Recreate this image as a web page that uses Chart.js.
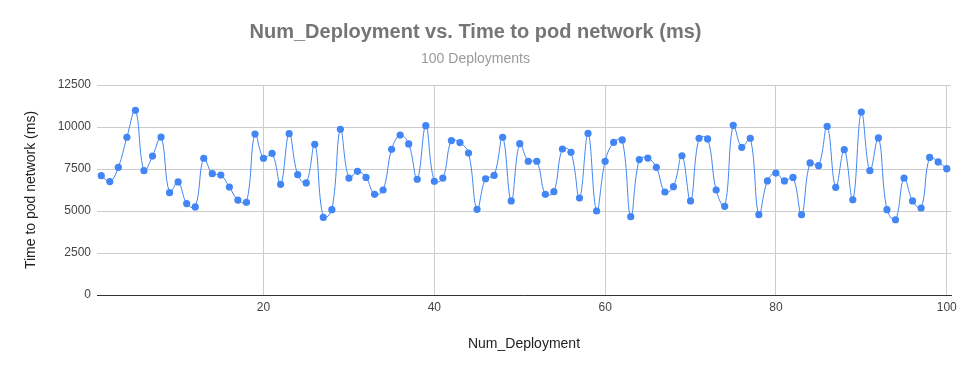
<!DOCTYPE html>
<html>
<head>
<meta charset="utf-8">
<script src="https://cdn.jsdelivr.net/npm/chart.js@4"></script>
<style>
  body { margin: 0; background: #fff; }
  #wrap { width: 970px; height: 371px; }
</style>
</head>
<body>
<div id="wrap"><canvas id="chart" width="970" height="371"></canvas></div>
<script>
const deployments = [1, 2, 3, 4, 5, 6, 7, 8, 9, 10, 11, 12, 13, 14, 15, 16, 17, 18, 19, 20,
  21, 22, 23, 24, 25, 26, 27, 28, 29, 30, 31, 32, 33, 34, 35, 36, 37, 38, 39, 40,
  41, 42, 43, 44, 45, 46, 47, 48, 49, 50, 51, 52, 53, 54, 55, 56, 57, 58, 59, 60,
  61, 62, 63, 64, 65, 66, 67, 68, 69, 70, 71, 72, 73, 74, 75, 76, 77, 78, 79, 80,
  81, 82, 83, 84, 85, 86, 87, 88, 89, 90, 91, 92, 93, 94, 95, 96, 97, 98, 99, 100];

const podNetworkMs = [7100, 6750, 7600, 9390, 10990, 7400, 8270, 9400, 6090, 6730,
  5440, 5240, 8140, 7220, 7140, 6430, 5650, 5520, 9580, 8140,
  8430, 6590, 9600, 7160, 6670, 8970, 4620, 5080, 9860, 6960,
  7360, 7000, 5990, 6250, 8670, 9520, 8990, 6890, 10080, 6770,
  6960, 9190, 9070, 8450, 5100, 6920, 7120, 9390, 5600, 9010,
  7960, 7960, 5990, 6150, 8690, 8490, 5770, 9620, 5000, 7960,
  9090, 9230, 4660, 8060, 8150, 7600, 6130, 6450, 8290, 5600,
  9330, 9290, 6250, 5280, 10100, 8790, 9330, 4780, 6790, 7260,
  6790, 7000, 4780, 7860, 7700, 10040, 6410, 8650, 5670, 10890,
  7400, 9350, 5080, 4480, 6960, 5600, 5180, 8190, 7920, 7520];

const xTicks = [20, 40, 60, 80, 100];
const yTicks = [0, 2500, 5000, 7500, 10000, 12500];

const points = deployments.map((d, i) => ({ x: d, y: podNetworkMs[i] }));
const font = 'Arial, "Liberation Sans", sans-serif';

new Chart(document.getElementById('chart'), {
  type: 'line',
  data: {
    datasets: [{
      label: 'Time to pod network (ms)',
      data: points,
      borderColor: '#4285f4',
      backgroundColor: '#4285f4',
      borderWidth: 1,
      pointRadius: 3.6,
      pointBorderWidth: 0,
      tension: 0.4,
      fill: false
    }]
  },
  options: {
    responsive: false,
    animation: false,
    events: [],
    layout: { padding: { left: 0, right: 19, top: 0, bottom: 0 } },
    plugins: {
      legend: { display: false },
      tooltip: { enabled: false },
      title: {
        display: true,
        text: 'Num_Deployment vs. Time to pod network (ms)',
        color: '#757575',
        font: { family: font, size: 20, weight: 'bold' },
        padding: { top: 20, bottom: 0 }
      },
      subtitle: {
        display: true,
        text: '100 Deployments',
        color: '#999999',
        font: { family: font, size: 14 },
        padding: { top: 6.6, bottom: 17.6 }
      }
    },
    scales: {
      x: {
        type: 'linear',
        min: 0.5,
        max: 100.5,
        afterBuildTicks: s => { s.ticks = xTicks.map(v => ({ value: v })); },
        afterFit: s => { s.height = 76; },
        grid: { color: '#cccccc', drawTicks: false },
        border: { display: true, color: '#333333', width: 1 },
        ticks: { color: '#444444', font: { family: font, size: 12 }, padding: 5, maxRotation: 0,
          callback: v => String(v) },
        title: {
          display: true,
          text: 'Num_Deployment',
          color: '#222222',
          font: { family: font, size: 14 },
          padding: { top: 0, bottom: 18.6 }
        }
      },
      y: {
        min: 0,
        max: 12500,
        afterBuildTicks: s => { s.ticks = yTicks.map(v => ({ value: v })); },
        afterFit: s => { s.width = 97; },
        grid: { color: '#cccccc', drawTicks: false },
        border: { display: false },
        ticks: { color: '#444444', font: { family: font, size: 12 }, padding: 6,
          callback: v => String(v) },
        title: {
          display: true,
          text: 'Time to pod network (ms)',
          color: '#222222',
          font: { family: font, size: 14 },
          padding: { top: 22.5, bottom: 0 }
        }
      }
    }
  }
});
</script>
</body>
</html>
